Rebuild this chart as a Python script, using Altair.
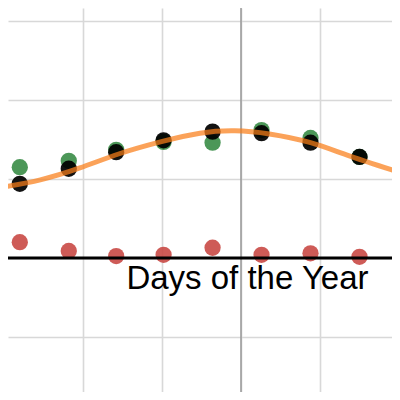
import altair as alt
import pandas as pd

# Sample positions (days) and series values
days = [-140, -109, -79, -49, -18, 13, 44, 75, 105]
black_vals = [9.4, 11.3, 13.4, 14.9, 16.0, 15.8, 14.6, 12.8, 10.5]
green_vals = [11.5, 12.3, 13.7, 14.7, 14.6, 16.2, 15.2, 12.8, 10.5]
red_vals = [2.0, 0.9, 0.25, 0.4, 1.3, 0.4, 0.6, 0.15, 0.15]

# Fitted curve at several positions
curve_x = [-153, -127, -102, -77, -51, -26, -4, 18, 44, 69, 101, 110]
curve_y = [8.9, 9.9, 11.4, 13.2, 14.7, 15.8, 16.1, 15.7, 14.6, 12.9, 10.8, 10.2]

x_grid = [-150, -100, -50, 0, 50, 100]
y_grid = [-10, 0, 10, 20, 30]

label_text = "Days of the Year"

X_DOM = [-147.47, 95.57]
Y_DOM = [-16.96, 31.65]

pts = pd.DataFrame({"day": days, "black": black_vals, "green": green_vals, "red": red_vals})
curve = pd.DataFrame({"x": curve_x, "y": curve_y})

xs = alt.Scale(domain=X_DOM, nice=False, zero=False)
ys = alt.Scale(domain=Y_DOM, nice=False, zero=False)

xax = alt.Axis(values=x_grid, grid=True, labels=False, ticks=False, domain=False,
               title=None, gridColor="#d8d8d8", gridWidth=1.6)
yax = alt.Axis(values=y_grid, grid=True, labels=False, ticks=False, domain=False,
               title=None, gridColor="#d8d8d8", gridWidth=1.6)

base = alt.Chart(pts)

grid = alt.Chart(pd.DataFrame({"x": [0]})).mark_rule(opacity=0).encode(
    x=alt.X("x:Q", scale=xs, axis=xax),
    y=alt.Y("x:Q", scale=ys, axis=yax),
)

yaxis_line = alt.Chart(pd.DataFrame({"x": [0]})).mark_rule(color="#999999", strokeWidth=1.5).encode(
    x=alt.X("x:Q", scale=xs)
)
xaxis_line = alt.Chart(pd.DataFrame({"y": [0]})).mark_rule(color="#000000", strokeWidth=3).encode(
    y=alt.Y("y:Q", scale=ys)
)

def dots(field, color, opacity):
    return base.mark_circle(size=265, color=color, opacity=opacity, clip=True).encode(
        x=alt.X("day:Q", scale=xs),
        y=alt.Y(f"{field}:Q", scale=ys),
    )

red = dots("red", "#c74440", 0.88)
green = dots("green", "#388c46", 0.9)
black = dots("black", "#000000", 0.93)

line = alt.Chart(curve).mark_line(color="#fa7e19", opacity=0.72, strokeWidth=5,
                                   interpolate="natural", clip=True).encode(
    x=alt.X("x:Q", scale=xs),
    y=alt.Y("y:Q", scale=ys),
)

label = alt.Chart(pd.DataFrame({"t": [label_text], "x": [4.1], "y": [-3.92]})).mark_text(
    font="Liberation Sans", fontSize=33, color="#000000", align="center", baseline="alphabetic"
).encode(
    x=alt.X("x:Q", scale=xs),
    y=alt.Y("y:Q", scale=ys),
    text="t:N",
)

chart = alt.layer(grid, yaxis_line, red, green, black, line, xaxis_line, label).properties(
    width=384, height=384, padding=0, autosize=alt.AutoSizeParams(type="none")
).configure_view(stroke=None)

chart.save("out.html", embed_options={"renderer": "svg", "actions": False})
